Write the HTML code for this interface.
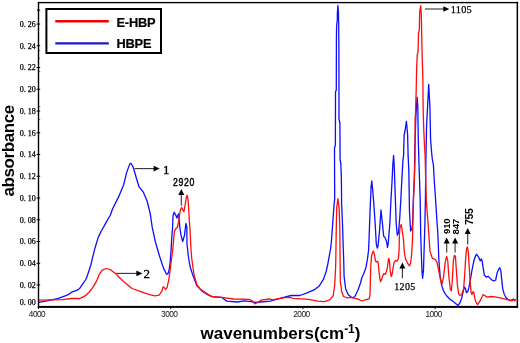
<!DOCTYPE html>
<html><head><meta charset="utf-8"><title>IR spectra</title><style>
html,body{margin:0;padding:0;background:#fff;}
svg{display:block;}
.yt{font-family:"Liberation Serif",serif;font-size:8px;text-anchor:end;fill:#000;stroke:#000;stroke-width:0.25px;}
.xt{font-family:"Liberation Sans",sans-serif;font-size:8.3px;text-anchor:middle;fill:#111;letter-spacing:-0.55px;}
.lg{font-family:"Liberation Sans",sans-serif;font-weight:bold;font-size:12.8px;fill:#000;stroke:#000;stroke-width:0.2px;}
.an1{font-family:"Liberation Serif",serif;font-size:13px;fill:#000;stroke:#000;stroke-width:0.3px;}
.an2{font-family:"Liberation Serif",serif;font-size:10.3px;fill:#000;stroke:#000;stroke-width:0.25px;letter-spacing:0.25px;}
.an3{font-family:"Liberation Sans",sans-serif;font-size:10.6px;fill:#000;stroke:#000;stroke-width:0.45px;letter-spacing:0.9px;}
.an4{font-family:"Liberation Serif",serif;font-size:10px;fill:#000;stroke:#000;stroke-width:0.25px;letter-spacing:0.3px;}
.an5{font-family:"Liberation Sans",sans-serif;font-weight:bold;font-size:9.6px;fill:#000;letter-spacing:-0.2px;}
.an6{font-family:"Liberation Sans",sans-serif;font-weight:bold;font-size:10.6px;fill:#000;letter-spacing:-0.4px;}
.at{font-family:"Liberation Sans",sans-serif;font-weight:bold;font-size:17px;fill:#000;}
</style></head>
<body><svg width="520" height="343" viewBox="0 0 520 343">
<rect x="0" y="0" width="520" height="343" fill="#fff"/>
<defs><clipPath id="pc"><rect x="39" y="3" width="478" height="303"/></clipPath></defs>
<g clip-path="url(#pc)" fill="none" stroke-width="1.3" stroke-linejoin="round" stroke-linecap="round">
<path d="M38.5,302.3 L40.2,302.1 L48.2,300.6 L58.4,298.4 L65.8,295.6 L68.7,294.4 L71.5,292.2 L75.4,290.9 L78.3,289.6 L80.2,287.7 L83.1,283.4 L85.5,280.0 L87.0,276.7 L91.0,264.5 L92.0,259.9 L95.1,247.7 L98.2,237.4 L101.2,231.3 L106.3,222.1 L110.4,215.0 L112.4,209.2 L118.6,196.9 L123.7,184.7 L126.7,172.4 L129.8,163.9 L130.8,163.3 L132.9,166.3 L135.9,176.5 L139.0,186.7 L143.5,192.4 L147.1,201.0 L150.2,213.3 L152.2,227.2 L155.3,241.5 L159.4,255.8 L163.5,268.1 L166.5,274.2 L167.5,274.2 L168.6,272.1 L169.4,268.0 L170.2,262.0 L171.1,249.2 L171.7,238.7 L172.6,227.0 L173.0,215.7 L174.2,212.2 L175.7,215.1 L176.9,218.0 L178.4,213.9 L179.0,218.0 L179.8,227.0 L181.0,235.2 L182.7,241.6 L184.5,235.2 L185.9,223.5 L186.8,227.0 L187.0,244.0 L188.3,255.5 L189.5,263.5 L190.5,268.0 L192.6,274.5 L197.0,285.9 L202.3,291.2 L207.5,294.7 L212.8,296.9 L221.5,297.3 L226.8,301.1 L237.3,302.0 L244.3,300.8 L251.3,301.7 L255.7,302.5 L260.0,302.0 L270.3,301.1 L275.5,299.6 L282.5,297.6 L291.3,295.5 L300.0,295.5 L307.0,292.9 L314.0,289.9 L319.3,285.9 L323.7,278.9 L326.3,271.0 L328.0,263.1 L329.4,255.3 L330.7,248.0 L331.5,240.5 L332.8,221.9 L334.0,205.6 L334.7,198.6 L334.6,180.0 L334.5,148.0 L335.4,145.0 L335.5,92.0 L336.3,90.0 L336.4,40.0 L336.6,26.0 L337.3,20.0 L337.4,12.5 L337.9,5.5 L338.4,12.0 L338.7,24.0 L338.9,49.0 L339.0,119.0 L339.9,123.0 L340.1,160.0 L340.8,163.0 L341.4,180.0 L341.6,203.3 L342.6,226.5 L343.3,249.8 L343.7,260.0 L344.1,276.7 L345.7,289.0 L348.2,294.7 L351.2,297.1 L352.7,297.8 L354.8,296.5 L358.0,290.0 L360.5,283.0 L362.0,277.2 L363.6,274.0 L366.0,267.6 L367.6,258.0 L368.6,250.0 L369.2,235.0 L370.0,212.6 L371.1,186.3 L371.8,181.0 L372.6,189.0 L373.7,202.1 L375.3,225.8 L376.3,244.2 L377.3,248.1 L377.9,246.8 L378.7,239.4 L379.7,228.4 L381.0,210.0 L382.4,223.2 L383.7,236.3 L385.3,237.9 L386.7,242.3 L387.5,247.4 L388.2,243.7 L388.9,235.0 L389.7,225.8 L391.0,199.5 L392.1,180.0 L392.8,165.0 L393.6,155.5 L394.2,165.0 L395.0,188.4 L396.2,223.4 L397.3,235.1 L398.5,232.8 L399.7,218.7 L400.8,200.0 L402.0,176.7 L402.4,170.0 L402.9,160.7 L403.6,155.5 L404.1,135.3 L405.0,131.0 L406.4,121.4 L407.6,134.5 L408.1,155.5 L408.8,170.0 L409.5,211.7 L410.6,231.0 L411.8,229.0 L412.6,224.0 L412.9,215.0 L413.3,200.0 L413.9,188.0 L414.4,176.0 L414.8,150.0 L415.9,115.8 L417.1,97.2 L417.8,106.5 L418.3,140.0 L419.0,164.6 L419.5,179.1 L420.2,200.0 L420.7,235.0 L421.9,270.1 L422.6,278.3 L423.5,270.1 L424.2,246.7 L424.9,223.4 L425.4,200.0 L425.9,160.0 L426.3,140.0 L426.6,125.1 L427.6,106.5 L428.7,84.4 L429.9,106.5 L430.6,140.0 L431.8,154.4 L432.3,159.0 L433.4,165.0 L434.4,183.0 L435.5,198.0 L436.3,211.0 L437.0,222.0 L437.7,231.0 L438.3,244.0 L438.8,259.0 L440.1,275.8 L441.6,285.1 L443.5,290.8 L446.3,295.5 L450.0,299.2 L453.8,302.1 L457.4,304.9 L458.0,305.5 L459.9,302.9 L461.7,298.2 L463.6,289.8 L464.5,287.0 L465.5,288.9 L466.4,292.6 L467.7,291.7 L468.8,287.9 L470.1,281.4 L472.0,270.2 L473.9,260.8 L475.8,255.2 L476.7,254.3 L478.6,257.1 L480.1,260.8 L481.4,259.0 L482.3,261.8 L483.2,268.3 L484.3,275.0 L486.2,277.2 L488.1,276.3 L490.0,278.1 L491.9,280.0 L493.8,281.0 L495.7,280.0 L497.0,273.4 L498.5,269.6 L499.8,267.7 L500.8,270.6 L501.7,279.1 L502.7,288.6 L504.2,294.2 L506.1,297.7 L508.0,299.5 L509.9,300.3 L511.8,299.9 L513.7,299.0 L514.6,300.3 L515.5,300.0" stroke="#0d0dff"/>
<path d="M38.5,300.0 L40.0,300.2 L50.2,299.8 L62.5,299.6 L71.5,298.5 L78.3,298.3 L79.2,298.9 L81.2,297.8 L85.0,295.9 L88.8,292.5 L92.7,287.7 L95.6,282.9 L97.2,279.5 L99.2,274.7 L102.2,270.1 L106.3,268.5 L110.4,269.7 L116.5,274.2 L118.0,276.3 L123.0,281.0 L127.8,285.0 L132.0,288.5 L140.8,291.7 L149.5,294.7 L154.8,295.9 L159.2,295.2 L161.8,291.2 L163.2,286.8 L164.4,287.7 L165.6,289.4 L167.0,287.7 L168.8,279.8 L170.5,267.5 L171.4,260.0 L172.8,249.2 L173.8,237.5 L174.6,230.5 L176.3,228.2 L177.5,227.0 L178.9,220.0 L179.2,216.8 L180.4,209.8 L181.6,207.5 L182.7,209.8 L183.9,211.6 L185.1,205.2 L186.2,198.2 L187.1,195.2 L188.0,199.3 L188.6,207.5 L189.2,219.2 L190.1,231.0 L190.9,248.5 L191.7,258.0 L192.6,265.0 L194.2,275.5 L197.0,285.0 L200.5,289.4 L205.8,292.9 L211.0,296.4 L221.5,297.3 L233.8,299.0 L249.5,299.4 L252.2,300.8 L254.8,303.9 L257.4,302.5 L261.8,299.9 L270.0,299.0 L272.0,299.9 L279.0,298.7 L286.5,297.3 L290.7,297.5 L293.0,298.4 L301.8,298.8 L308.8,299.4 L317.5,301.1 L324.5,301.7 L329.8,299.9 L333.3,295.5 L334.7,285.0 L335.6,267.5 L335.8,260.0 L336.3,226.5 L336.7,207.9 L337.9,198.6 L339.1,207.9 L339.8,226.5 L340.1,260.0 L340.3,282.0 L341.2,287.0 L341.7,291.7 L343.6,296.5 L347.6,297.8 L350.8,297.3 L354.0,298.1 L357.2,298.9 L362.0,301.0 L366.0,299.7 L369.2,298.9 L370.0,294.9 L370.4,280.0 L370.8,266.0 L371.5,256.0 L373.2,251.0 L374.4,253.9 L375.5,261.2 L376.6,261.9 L377.6,261.2 L378.4,264.1 L379.0,271.4 L379.9,278.7 L380.5,281.6 L381.6,279.4 L382.8,275.8 L383.8,273.6 L385.3,274.3 L386.3,272.1 L387.5,267.0 L388.6,258.3 L389.4,259.7 L390.1,270.0 L391.1,276.5 L392.1,274.3 L393.0,268.5 L394.0,262.7 L395.5,260.5 L396.9,261.2 L398.4,258.3 L399.1,249.6 L399.4,235.0 L400.1,226.9 L401.3,224.5 L402.2,230.5 L403.5,240.0 L404.1,249.0 L404.6,254.0 L405.4,258.6 L406.8,261.5 L408.3,264.4 L409.5,265.8 L410.6,262.9 L411.6,254.2 L412.5,239.6 L412.8,225.0 L413.1,212.0 L413.9,190.0 L414.4,178.0 L415.0,160.0 L415.1,145.0 L415.1,118.7 L415.5,113.5 L416.2,90.2 L416.6,70.0 L417.2,55.1 L418.1,51.0 L418.5,32.7 L419.3,30.6 L419.7,12.2 L420.7,5.7 L421.3,14.3 L421.7,34.7 L422.3,61.2 L422.6,70.0 L422.9,80.0 L423.1,106.5 L423.6,125.0 L424.2,140.0 L425.1,155.5 L425.7,179.1 L426.3,200.0 L427.7,218.7 L428.9,235.0 L430.0,251.4 L432.4,258.4 L435.5,259.5 L437.0,262.4 L439.1,272.7 L440.7,280.8 L442.1,283.9 L443.6,276.7 L445.2,262.4 L446.6,256.3 L447.7,260.4 L448.9,276.7 L450.3,289.0 L451.3,291.0 L452.3,280.8 L453.4,260.4 L454.4,255.3 L455.4,256.3 L456.4,270.6 L457.4,284.9 L458.5,293.1 L459.5,295.1 L461.5,295.1 L463.6,288.9 L464.5,277.6 L465.5,260.8 L466.4,249.6 L467.3,246.8 L468.3,251.5 L469.2,266.4 L470.1,281.4 L471.1,292.6 L472.0,294.5 L473.0,291.7 L473.9,292.6 L474.8,298.2 L475.8,301.9 L477.6,304.7 L479.5,301.9 L481.4,298.2 L483.2,294.5 L484.3,295.3 L487.2,297.1 L490.9,296.5 L496.6,297.1 L502.3,298.4 L508.0,299.9 L511.8,300.9 L513.7,299.5 L514.6,300.9 L515.5,300.0" stroke="#ff0d0d"/>
</g>
<rect x="37.8" y="1.9" width="480.3" height="1.4" fill="#000"/>
<rect x="37.8" y="305.9" width="480.3" height="2" fill="#000"/>
<rect x="37.8" y="1.9" width="1.4" height="306" fill="#000"/>
<rect x="516.6" y="1.9" width="1.5" height="306" fill="#000"/>
<line x1="36.5" y1="24.00" x2="40.2" y2="24.00" stroke="#000" stroke-width="1"/>
<text x="35.8" y="26.80" class="yt">0. 26</text>
<line x1="36.5" y1="45.75" x2="40.2" y2="45.75" stroke="#000" stroke-width="1"/>
<text x="35.8" y="48.55" class="yt">0. 24</text>
<line x1="36.5" y1="67.50" x2="40.2" y2="67.50" stroke="#000" stroke-width="1"/>
<text x="35.8" y="70.30" class="yt">0. 22</text>
<line x1="36.5" y1="89.25" x2="40.2" y2="89.25" stroke="#000" stroke-width="1"/>
<text x="35.8" y="92.05" class="yt">0. 20</text>
<line x1="36.5" y1="111.00" x2="40.2" y2="111.00" stroke="#000" stroke-width="1"/>
<text x="35.8" y="113.80" class="yt">0. 18</text>
<line x1="36.5" y1="132.75" x2="40.2" y2="132.75" stroke="#000" stroke-width="1"/>
<text x="35.8" y="135.55" class="yt">0. 16</text>
<line x1="36.5" y1="154.50" x2="40.2" y2="154.50" stroke="#000" stroke-width="1"/>
<text x="35.8" y="157.30" class="yt">0. 14</text>
<line x1="36.5" y1="176.25" x2="40.2" y2="176.25" stroke="#000" stroke-width="1"/>
<text x="35.8" y="179.05" class="yt">0. 12</text>
<line x1="36.5" y1="198.00" x2="40.2" y2="198.00" stroke="#000" stroke-width="1"/>
<text x="35.8" y="200.80" class="yt">0. 10</text>
<line x1="36.5" y1="219.75" x2="40.2" y2="219.75" stroke="#000" stroke-width="1"/>
<text x="35.8" y="222.55" class="yt">0. 08</text>
<line x1="36.5" y1="241.50" x2="40.2" y2="241.50" stroke="#000" stroke-width="1"/>
<text x="35.8" y="244.30" class="yt">0. 06</text>
<line x1="36.5" y1="263.25" x2="40.2" y2="263.25" stroke="#000" stroke-width="1"/>
<text x="35.8" y="266.05" class="yt">0. 04</text>
<line x1="36.5" y1="285.00" x2="40.2" y2="285.00" stroke="#000" stroke-width="1"/>
<text x="35.8" y="287.80" class="yt">0. 02</text>
<text x="35.8" y="304.50" class="yt">0. 00</text>
<line x1="38.5" y1="50.50" x2="40.2" y2="50.50" stroke="#333" stroke-width="0.8"/>
<line x1="38.5" y1="58.30" x2="40.2" y2="58.30" stroke="#333" stroke-width="0.8"/>
<line x1="38.5" y1="71.60" x2="40.2" y2="71.60" stroke="#333" stroke-width="0.8"/>
<line x1="38.5" y1="106.60" x2="40.2" y2="106.60" stroke="#333" stroke-width="0.8"/>
<line x1="38.5" y1="119.40" x2="40.2" y2="119.40" stroke="#333" stroke-width="0.8"/>
<line x1="36.8" y1="10.1" x2="40.2" y2="10.1" stroke="#000" stroke-width="1"/>
<line x1="38.50" y1="306" x2="38.50" y2="309" stroke="#000" stroke-width="1"/>
<text x="37.00" y="316.8" class="xt">4000</text>
<line x1="170.70" y1="306" x2="170.70" y2="309" stroke="#000" stroke-width="1"/>
<text x="169.20" y="316.8" class="xt">3000</text>
<line x1="302.90" y1="306" x2="302.90" y2="309" stroke="#000" stroke-width="1"/>
<text x="301.40" y="316.8" class="xt">2000</text>
<line x1="435.10" y1="306" x2="435.10" y2="309" stroke="#000" stroke-width="1"/>
<text x="433.60" y="316.8" class="xt">1000</text>
<rect x="46.4" y="9" width="114.6" height="44" fill="#fff" stroke="#000" stroke-width="2"/>
<line x1="55.3" y1="21.2" x2="108.8" y2="21.2" stroke="#f00000" stroke-width="2.4"/>
<line x1="55.3" y1="43.4" x2="108.8" y2="43.4" stroke="#1818cc" stroke-width="2.4"/>
<text x="116.5" y="27" class="lg" letter-spacing="-0.2">E-HBP</text>
<text x="116.5" y="48.3" class="lg" letter-spacing="-0.2">HBPE</text>
<line x1="134.6" y1="168.6" x2="154.6" y2="168.6" stroke="#333" stroke-width="1.1"/><polygon points="153.6,165.79999999999998 159.6,168.6 153.6,171.4" fill="#000"/>
<text x="163.0" y="173.9" class="an1">1</text>
<line x1="116.2" y1="273.4" x2="137.4" y2="273.4" stroke="#333" stroke-width="1.1"/><polygon points="136.4,270.59999999999997 142.4,273.4 136.4,276.2" fill="#000"/>
<text x="143.4" y="277.7" class="an1">2</text>
<line x1="425" y1="9" x2="444.3" y2="9" stroke="#333" stroke-width="1.1"/><polygon points="443.3,6.2 449.3,9 443.3,11.8" fill="#000"/>
<text x="450.8" y="12.6" class="an2">1105</text>
<line x1="181.3" y1="194" x2="181.3" y2="205.8" stroke="#333" stroke-width="1.1"/><polygon points="178.3,195 181.3,189 184.3,195" fill="#000"/>
<text transform="translate(172.9,185.5) scale(0.82,1)" class="an3">2920</text>
<line x1="402.4" y1="267.6" x2="402.4" y2="278.3" stroke="#333" stroke-width="1.1"/><polygon points="399.4,268.6 402.4,262.6 405.4,268.6" fill="#000"/>
<text x="394.3" y="289.9" class="an4">1205</text>
<line x1="446.7" y1="242.6" x2="446.7" y2="252.4" stroke="#333" stroke-width="1.1"/><polygon points="443.7,243.6 446.7,237.6 449.7,243.6" fill="#000"/>
<line x1="455.1" y1="242.6" x2="455.1" y2="252.4" stroke="#333" stroke-width="1.1"/><polygon points="452.1,243.6 455.1,237.6 458.1,243.6" fill="#000"/>
<line x1="467.7" y1="233" x2="467.7" y2="244.6" stroke="#333" stroke-width="1.1"/><polygon points="464.7,234 467.7,228 470.7,234" fill="#000"/>
<text transform="translate(450.4,234) rotate(-90)" class="an5">910</text>
<text transform="translate(459.3,234.4) rotate(-90)" class="an5">847</text>
<text transform="translate(473.1,225) rotate(-90)" class="an6">755</text>
<text transform="translate(14.4,196.5) rotate(-90)" class="at" letter-spacing="-0.4">absorbance</text>
<text x="200.5" y="339.2" class="at">wavenumbers(cm<tspan dy="-6" font-size="12">-1</tspan><tspan dy="6">)</tspan></text>
</svg></body></html>
